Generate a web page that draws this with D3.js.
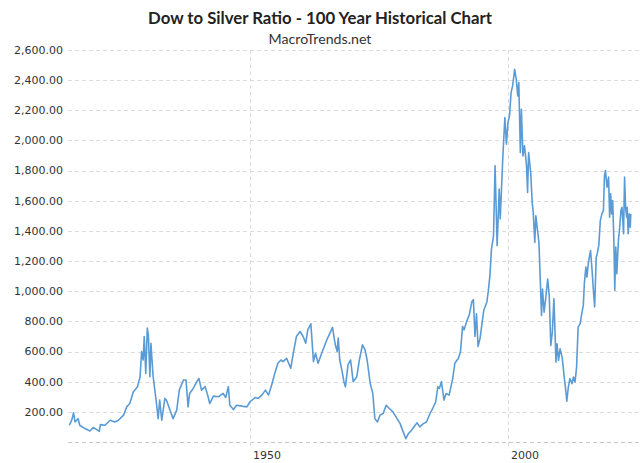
<!DOCTYPE html>
<html>
<head>
<meta charset="utf-8">
<script src="https://cdn.jsdelivr.net/npm/d3@7"></script>
<style>
  html, body { margin: 0; padding: 0; background: #fff; }
  svg { display: block; }
</style>
</head>
<body>
<svg id="chart" width="640" height="463"></svg>
<script>
// ---- data ----
const years = [
1915.0,1915.5,1915.8,1916.1,1916.7,1917.0,1918.0,1919.0,1919.6,1920.3,1920.8,1921.0,1921.9,1922.9,1923.8,1924.5,1925.5,1926.1,1926.7,1927.4,
1928.2,1928.7,1929.0,1929.3,1929.5,1929.8,1930.1,1930.3,1930.6,1930.8,1931.2,1931.8,1932.2,1932.5,1932.9,1933.5,1933.8,1934.5,1935.1,1935.8,
1936.3,1937.1,1937.6,1938.0,1938.3,1939.0,1939.7,1940.1,1940.6,1941.3,1941.8,1942.2,1942.9,1943.9,1944.8,1945.3,1945.8,1946.1,1946.8,1947.4,
1948.4,1949.4,1950.0,1951.0,1951.6,1952.3,1953.0,1953.6,1954.2,1954.8,1955.4,1956.0,1956.4,1957.1,1957.9,1958.4,1959.0,1959.7,1960.3,1960.8,
1961.2,1961.8,1962.3,1962.7,1963.2,1963.9,1964.9,1965.5,1966.0,1966.5,1966.9,1967.1,1967.4,1967.8,1968.2,1968.5,1969.0,1969.5,1970.0,1970.7,
1971.2,1971.8,1972.3,1972.7,1973.3,1973.8,1974.2,1974.7,1975.2,1975.8,1976.4,1977.0,1977.7,1978.3,1979.1,1979.7,1980.2,1980.7,1981.3,1982.0,
1982.4,1982.9,1983.6,1984.2,1984.9,1985.4,1986.0,1986.4,1986.7,1987.1,1987.6,1988.0,1988.6,1989.3,1989.7,1990.4,1990.8,1991.2,1991.5,1992.0,
1992.5,1993.0,1993.3,1993.6,1993.9,1994.2,1994.6,1995.0,1995.3,1995.9,1996.2,1996.5,1996.8,1997.2,1997.5,1997.7,1997.9,1998.3,1998.5,1999.0,
1999.4,1999.7,2000.0,2000.3,2000.6,2000.9,2001.3,2001.6,2001.9,2002.1,2002.4,2002.6,2002.9,2003.2,2003.6,2003.8,2004.0,2004.4,2004.7,2004.9,
2005.2,2005.4,2005.7,2006.0,2006.3,2006.5,2006.7,2007.0,2007.3,2007.7,2008.0,2008.3,2008.6,2008.9,2009.1,2009.3,2009.5,2009.8,2010.1,2010.5,
2010.9,2011.2,2011.4,2011.7,2012.0,2012.4,2012.7,2013.0,2013.3,2013.6,2014.0,2014.3,2014.6,2014.8,2015.1,2015.3,2015.6,2016.0,2016.3,2016.6,
2016.8,2017.1,2017.3,2017.6,2017.9,2018.2,2018.5,2018.7,2018.9,2019.2,2019.5,2019.7,2019.9,2020.1,2020.3,2020.5,2020.6,2020.7,2020.9,2021.1,
2021.4,2021.6,2021.9,2022.1,2022.4,2022.6,2022.8,2023.0,2023.1,2023.3,2023.5,2023.7,2023.8
];
const ratios = [
111,150,193,133,155,111,89,73,96,82,71,115,111,144,133,144,178,233,255,333,
367,433,600,544,700,455,755,711,433,655,444,278,155,278,144,289,278,211,155,211,
344,411,411,233,322,355,400,422,344,367,311,255,304,300,322,295,367,244,215,244,
238,233,267,295,289,311,344,311,378,455,522,544,533,555,489,589,700,733,700,655,
744,784,533,589,522,589,678,722,760,650,600,689,544,478,400,367,511,544,400,433,
544,644,611,544,389,322,155,133,178,189,244,222,200,167,122,67,22,55,78,111,
127,100,122,133,189,222,267,367,355,400,278,322,311,422,522,555,600,767,744,800,
844,930,944,700,850,633,689,795,872,927,1004,1103,1280,1368,1832,1567,1302,1677,1479,1887,
2152,1975,2119,2163,2317,2362,2472,2406,2295,2384,1920,2207,1898,1964,1832,1655,1920,1788,1589,1523,
1324,1501,1412,1324,1037,839,1015,861,949,1081,971,640,728,949,750,530,652,541,618,563,
431,343,270,365,420,387,431,398,497,762,785,851,906,1050,1160,1094,1193,1270,1138,983,
895,1226,1249,1304,1469,1513,1535,1767,1800,1690,1757,1491,1646,1513,1601,1359,1204,1006,1293,1116,
1337,1403,1535,1557,1381,1757,1557,1491,1557,1381,1513,1425,1513
];
const yTickValues = [200,400,600,800,1000,1200,1400,1600,1800,2000,2200,2400,2600];
const xTickValues = [1950, 2000];
const titleText = "Dow to Silver Ratio - 100 Year Historical Chart";
const subtitleText = "MacroTrends.net";

const data = years.map((y, i) => ({ year: y, value: ratios[i] }));

// ---- layout ----
const svg = d3.select("#chart");
const W = 640, H = 463;
const plotLeft = 68, plotRight = 640, plotTop = 50, plotBottom = 442;

const x = d3.scaleLinear().domain([1915, 2024]).range([69.4, 631.8]);
const y = d3.scaleLinear().domain([0, 2600]).range([plotBottom, plotTop]);

const gridColor = "#dcdcdc";

// horizontal gridlines (incl. baseline)
svg.append("g").selectAll("line")
  .data([0].concat(yTickValues))
  .join("line")
  .attr("x1", plotLeft).attr("x2", plotRight)
  .attr("y1", d => Math.round(y(d)) + 0.5).attr("y2", d => Math.round(y(d)) + 0.5)
  .attr("stroke", d => d === 0 ? "#c8c8c8" : gridColor)
  .attr("stroke-width", 1)
  .attr("stroke-dasharray", "4,3");

// vertical gridlines
svg.append("g").selectAll("line")
  .data(xTickValues)
  .join("line")
  .attr("x1", d => Math.round(x(d)) + 0.5).attr("x2", d => Math.round(x(d)) + 0.5)
  .attr("y1", plotTop).attr("y2", plotBottom + 5)
  .attr("stroke", gridColor)
  .attr("stroke-width", 1)
  .attr("stroke-dasharray", "4,3");

// y axis labels
const fmt = d3.format(",.2f");
svg.append("g").selectAll("text")
  .data(yTickValues)
  .join("text")
  .attr("x", 63)
  .attr("y", d => y(d))
  .attr("dy", "0.35em")
  .attr("text-anchor", "end")
  .attr("font-family", "DejaVu Sans, Verdana, sans-serif")
  .attr("font-size", 11)
  .attr("fill", "#333")
  .text(d => fmt(d));

// x axis labels
svg.append("g").selectAll("text")
  .data(xTickValues)
  .join("text")
  .attr("x", d => x(d) + 3)
  .attr("y", 459)
  .attr("text-anchor", "start")
  .attr("font-family", "DejaVu Sans, Verdana, sans-serif")
  .attr("font-size", 11)
  .attr("fill", "#333")
  .text(d => d);

// line
const line = d3.line().x(d => x(d.year)).y(d => y(d.value));
svg.append("path")
  .datum(data)
  .attr("d", line)
  .attr("fill", "none")
  .attr("stroke", "#5b9bd5")
  .attr("stroke-width", 1.6)
  .attr("stroke-linejoin", "round");

// titles
function fitText(sel, target) {
  const len = sel.node().getComputedTextLength();
  const fs = parseFloat(sel.attr("font-size"));
  if (len > 0) sel.attr("font-size", (fs * target / len).toFixed(2));
}
const title = svg.append("text")
  .attr("x", 320).attr("y", 24)
  .attr("text-anchor", "middle")
  .attr("font-family", "Lato, 'Open Sans', sans-serif")
  .attr("font-weight", "bold")
  .attr("font-size", 17)
  .attr("fill", "#222")
  .text(titleText);
fitText(title, 344);

const sub = svg.append("text")
  .attr("x", 320).attr("y", 44)
  .attr("text-anchor", "middle")
  .attr("font-family", "Lato, 'Open Sans', sans-serif")
  .attr("font-size", 14)
  .attr("fill", "#333")
  .text(subtitleText);
fitText(sub, 103);
</script>
</body>
</html>
